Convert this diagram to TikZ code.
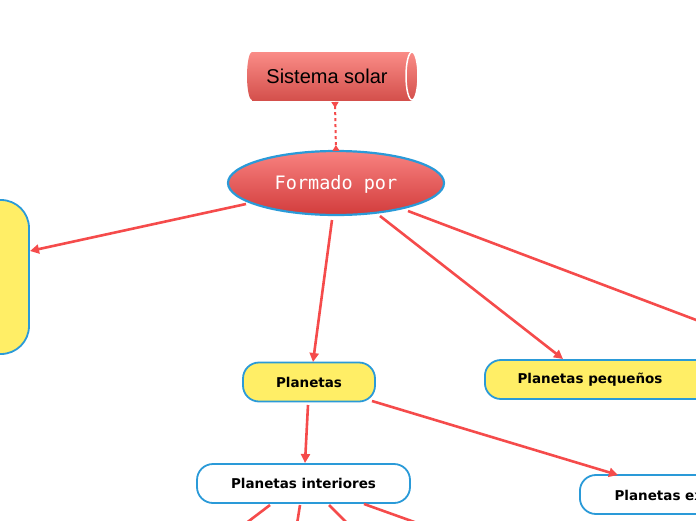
\documentclass[tikz,border=0pt]{standalone}
\usepackage{fontspec}
\setmainfont{DejaVu Sans}
\newfontfamily\robo{Liberation Sans}
\newfontfamily\mono{DejaVu Sans Mono}
\usetikzlibrary{arrows.meta,shapes.geometric}
\definecolor{conn}{HTML}{F54B4B}
\definecolor{bord}{HTML}{2A9AD8}
\definecolor{yel}{HTML}{FFEE66}
\colorlet{ctop}{red!45!white}
\definecolor{ctop}{RGB}{250,140,135}
\definecolor{cbot}{RGB}{212,80,76}
\begin{document}
\begin{tikzpicture}[x=1pt,y=-1pt,
  conn/.style={draw=conn,line width=2.6pt,-{Triangle[length=9pt,width=9pt]}},
  pill/.style={draw=bord,line width=1.8pt,rounded corners=16pt},
  lbl/.style={font=\bfseries\fontsize{13.5}{15}\selectfont}]
\useasboundingbox (0,0) rectangle (696,520);
\clip (0,0) rectangle (696,520);
% cylinder
\shade[top color=ctop, bottom color=cbot] (252,76) ellipse[x radius=5,y radius=24];
\shade[top color=ctop, bottom color=cbot] (252,52) rectangle (412,100);
\shade[top color=ctop, bottom color=cbot] (412,76) ellipse[x radius=6,y radius=24];
\draw[white,line width=1.5pt] (412,76) ellipse[x radius=6,y radius=24];
\node[font=\robo\fontsize{20}{22}\selectfont] (sol) at (327,76) {Sistema solar};
\coordinate (solb) at (335,102);
% ellipse
\shade[top color={rgb,255:red,248;green,130;blue,128}, bottom color={rgb,255:red,210;green,60;blue,60}] (336,183) ellipse[x radius=108,y radius=32];
\draw[bord,line width=2.2pt] (336,183) ellipse[x radius=108,y radius=32];
\node[font=\mono\fontsize{18.5}{20}\selectfont,text=white] (fp) at (336,184) {Formado por};
\coordinate (fpt) at (336,151);
\draw[conn,dashed,line width=2pt,{Triangle[reversed,length=6pt,width=7pt]}-{Triangle[reversed,length=6pt,width=7pt]}] (solb) -- (fpt);
% left box
\node[pill,fill=yel,rounded corners=28pt,minimum width=110pt,minimum height=154pt] (lb) at (-26,277) {};
% boxes
\node[pill,fill=yel,minimum width=132pt,minimum height=39pt] (pl) at (309,382) {};
\node[lbl] at (pl) {Planetas};
\node[pill,fill=yel,minimum width=230pt,minimum height=39pt,anchor=west] (pp) at (484,379.5) {};
\node[lbl] at (590,379.5) {Planetas pequeños};
\node[pill,fill=white,minimum width=213pt,minimum height=39pt] (pi) at (303.5,483.5) {};
\node[lbl] at (pi) {Planetas interiores};
\node[pill,fill=white,minimum width=180pt,minimum height=39pt,anchor=west] (pe) at (579,494.5) {};
\node[lbl,anchor=west] at (611,495) {Planetas exteriores};
% connectors
\coordinate (a1) at (246,204); \coordinate (b1) at (30,251);
\coordinate (a2) at (332,220); \coordinate (b2) at (313,362);
\coordinate (a3) at (380,216); \coordinate (b3) at (563,359);
\coordinate (a4) at (408,211); \coordinate (b4) at (720,329);
\coordinate (a5) at (308,405); \coordinate (b5) at (305,463);
\coordinate (a6) at (372,401); \coordinate (b6) at (618,475);
\draw[conn] (a1) -- (b1);
\draw[conn] (a2) -- (b2);
\draw[conn] (a3) -- (b3);
\draw[conn,-] (a4) -- (b4);
\draw[conn] (a5) -- (b5);
\draw[conn] (a6) -- (b6);
\coordinate (c1) at (270,505); \coordinate (d1) at (245,524);
\coordinate (c2) at (300,505); \coordinate (d2) at (297,524);
\coordinate (c3) at (329,505); \coordinate (d3) at (348,524);
\coordinate (c4) at (364,504); \coordinate (d4) at (420,524);
\foreach \i in {1,2,3,4} \draw[conn,-] (c\i) -- (d\i);
\end{tikzpicture}
\end{document}
